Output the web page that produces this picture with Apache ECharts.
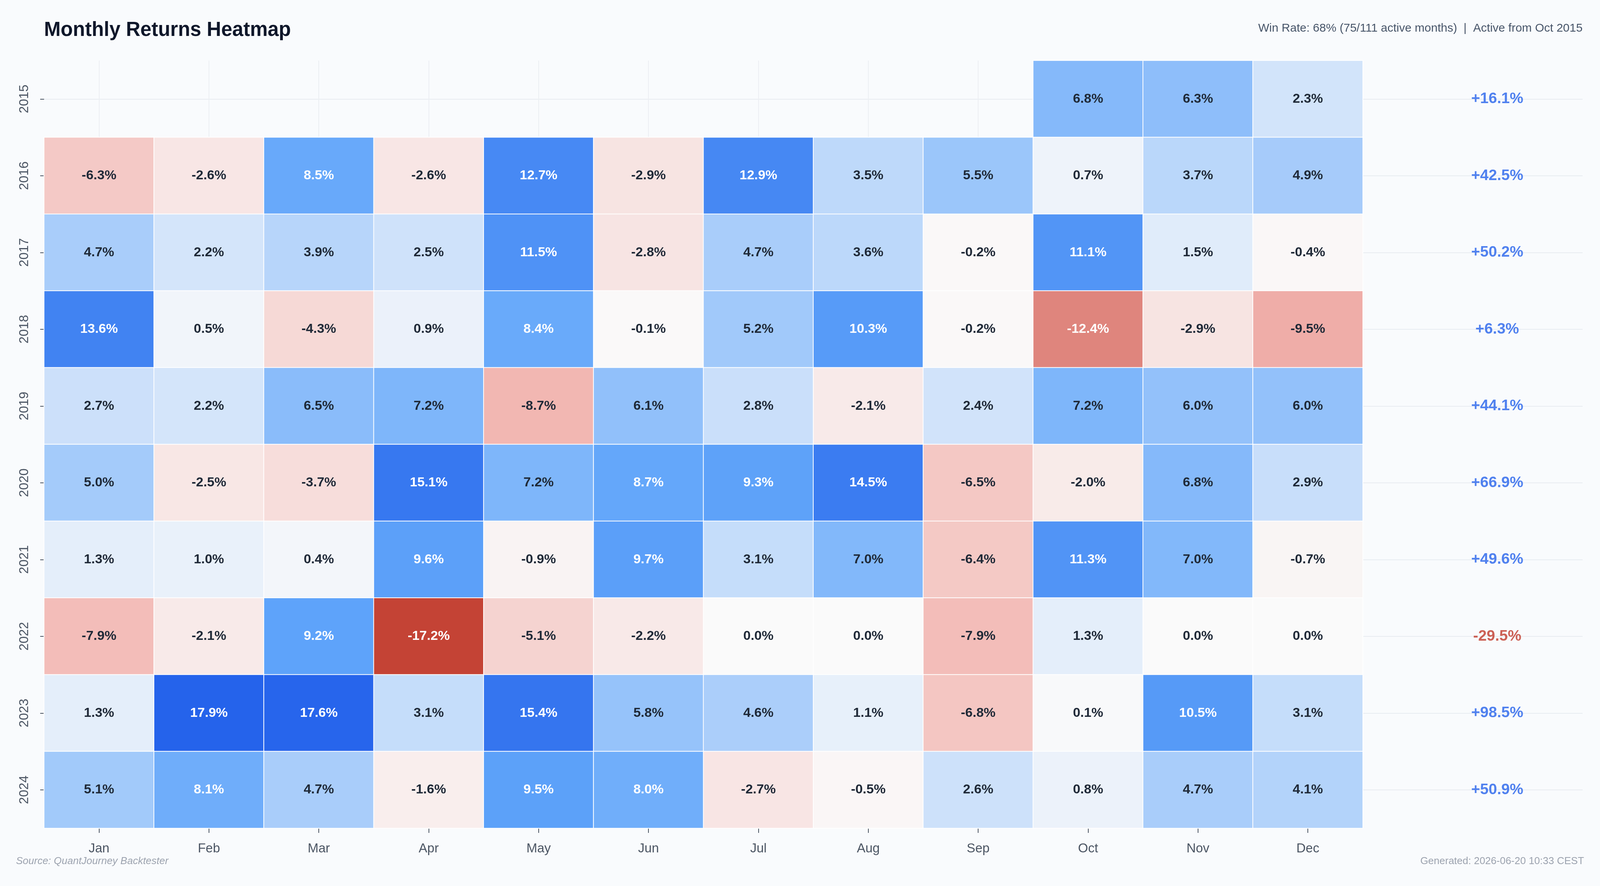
<!DOCTYPE html>
<html>
<head>
<meta charset="utf-8">
<script src="https://cdn.jsdelivr.net/npm/echarts@6/dist/echarts.min.js"></script>
<style>
html,body{margin:0;padding:0;background:#f9fbfd;overflow:hidden;}
#chart{width:100vw;height:100vh;}
</style>
</head>
<body>
<div id="chart"></div>
<script>
// months + years
var months = ['Jan','Feb','Mar','Apr','May','Jun','Jul','Aug','Sep','Oct','Nov','Dec'];
var years = ['2015','2016','2017','2018','2019','2020','2021','2022','2023','2024'];

// monthly returns in %, null = not active yet
var r2015 = [null,null,null,null,null,null,null,null,null,6.8,6.3,2.3];
var r2016 = [-6.3,-2.6,8.5,-2.6,12.7,-2.9,12.9,3.5,5.5,0.7,3.7,4.9];
var r2017 = [4.7,2.2,3.9,2.5,11.5,-2.8,4.7,3.6,-0.2,11.1,1.5,-0.4];
var r2018 = [13.6,0.5,-4.3,0.9,8.4,-0.1,5.2,10.3,-0.2,-12.4,-2.9,-9.5];
var r2019 = [2.7,2.2,6.5,7.2,-8.7,6.1,2.8,-2.1,2.4,7.2,6.0,6.0];
var r2020 = [5.0,-2.5,-3.7,15.1,7.2,8.7,9.3,14.5,-6.5,-2.0,6.8,2.9];
var r2021 = [1.3,1.0,0.4,9.6,-0.9,9.7,3.1,7.0,-6.4,11.3,7.0,-0.7];
var r2022 = [-7.9,-2.1,9.2,-17.2,-5.1,-2.2,0.0,0.0,-7.9,1.3,0.0,0.0];
var r2023 = [1.3,17.9,17.6,3.1,15.4,5.8,4.6,1.1,-6.8,0.1,10.5,3.1];
var r2024 = [5.1,8.1,4.7,-1.6,9.5,8.0,-2.7,-0.5,2.6,0.8,4.7,4.1];

// yearly compounded totals (%)
var yearTotals = [16.1,42.5,50.2,6.3,44.1,66.9,49.6,-29.5,98.5,50.9];

var rows = [r2015,r2016,r2017,r2018,r2019,r2020,r2021,r2022,r2023,r2024];

var FONT = '"Liberation Sans", Arial, Helvetica, sans-serif';

// layout measured on a 4500x2268 picture, stretch it onto the real window
var Sx = window.innerWidth / 4500;
var Sy = window.innerHeight / 2268;
var Sf = (Sx + Sy) / 2;
function X(v){ return v * Sx; }
function Y(v){ return v * Sy; }
function F(v){ return Math.round(v * Sf); }

function labelColor(v){
	return (v >= 7.6 || v <= -11) ? '#ffffff' : '#1f2937';
}

var cells = [];
var maxAbs = 0;
for (var y = 0; y < rows.length; y++) {
	for (var m = 0; m < 12; m++) {
		var v = rows[y][m];
		if (v === null) continue;
		if (Math.abs(v) > maxAbs) maxAbs = Math.abs(v);
		cells.push({ value: [m, y, v], label: { color: labelColor(v) } });
	}
}

var totals = yearTotals.map(function(t, i){
	return { value: [0, i, t], label: { color: t >= 0 ? '#2563eb' : '#c0392b' } };
});

// two padding columns after Dec so the row lines run on into the totals area
var xCats = months.concat(['pad1','pad2']);
function onlyMonths(i){ return i < 12; }

var chart = echarts.init(document.getElementById('chart'));
var option = {
	backgroundColor: '#f9fbfd',
	animation: false,
	textStyle: { fontFamily: FONT },
	grid: [
		{ left: X(124), width: X(4327), top: Y(155), height: Y(1965) },
		{ left: X(3971), width: X(480), top: Y(155), height: Y(1965) }
	],
	xAxis: [
		{
			type: 'category',
			gridIndex: 0,
			data: xCats,
			axisLine: { show: false },
			axisTick: { show: true, alignWithLabel: true, interval: onlyMonths, length: Y(12), lineStyle: { color: '#4b5563', width: 2 } },
			axisLabel: { interval: onlyMonths, fontSize: F(35), color: '#4b5563', margin: Y(36), fontFamily: FONT },
			splitLine: { show: true, alignWithLabel: true, interval: onlyMonths, lineStyle: { color: '#eceff3', width: 2 } }
		},
		{ type: 'category', gridIndex: 1, data: ['Total'], show: false }
	],
	yAxis: [
		{
			type: 'category',
			gridIndex: 0,
			data: years,
			inverse: true,
			axisLine: { show: false },
			axisTick: { show: true, alignWithLabel: true, length: X(11), lineStyle: { color: '#4b5563', width: 2 } },
			axisLabel: { rotate: 90, fontSize: F(35), color: '#4b5563', margin: X(37), fontFamily: FONT },
			splitLine: { show: true, alignWithLabel: true, lineStyle: { color: '#e8ecf1', width: 2 } }
		},
		{ type: 'category', gridIndex: 1, data: years, inverse: true, show: false }
	],
	visualMap: {
		show: false,
		type: 'continuous',
		seriesIndex: 0,
		dimension: 2,
		min: -maxAbs,
		max: maxAbs,
		inRange: { color: ['#c0392b', '#f2b5b0', '#fafafa', '#60a5fa', '#2563eb'] }
	},
	series: [
		{
			type: 'heatmap',
			xAxisIndex: 0,
			yAxisIndex: 0,
			data: cells,
			itemStyle: { borderColor: '#ffffff', borderWidth: 2 },
			label: {
				show: true,
				fontSize: F(36),
				fontWeight: 'bold',
				fontFamily: FONT,
				formatter: function(p){ return p.value[2].toFixed(1) + '%'; }
			},
			emphasis: { disabled: true }
		},
		{
			type: 'scatter',
			xAxisIndex: 1,
			yAxisIndex: 1,
			symbolSize: 0,
			data: totals,
			label: {
				show: true,
				position: 'inside',
				fontSize: F(41),
				fontWeight: 'bold',
				fontFamily: FONT,
				formatter: function(p){
					var t = p.value[2];
					return (t > 0 ? '+' : '') + t.toFixed(1) + '%';
				}
			},
			emphasis: { disabled: true }
		}
	],
	graphic: [
		{
			type: 'text', left: X(124), top: Y(52),
			style: { text: 'Monthly Returns Heatmap', font: 'bold ' + F(53) + 'px ' + FONT, fill: '#0f172a' }
		},
		{
			type: 'text', right: X(49), top: Y(58),
			style: { text: 'Win Rate: 68% (75/111 active months)  |  Active from Oct 2015', font: F(31) + 'px ' + FONT, fill: '#475569' }
		},
		{
			type: 'text', left: X(45), top: Y(2192),
			style: { text: 'Source: QuantJourney Backtester', font: 'italic ' + F(27) + 'px ' + FONT, fill: '#9ca3af' }
		},
		{
			type: 'text', right: X(45), top: Y(2192),
			style: { text: 'Generated: 2026-06-20 10:33 CEST', font: F(27) + 'px ' + FONT, fill: '#9ca3af' }
		}
	]
};
chart.setOption(option);
window.onresize = function(){ chart.resize(); };
</script>
</body>
</html>
